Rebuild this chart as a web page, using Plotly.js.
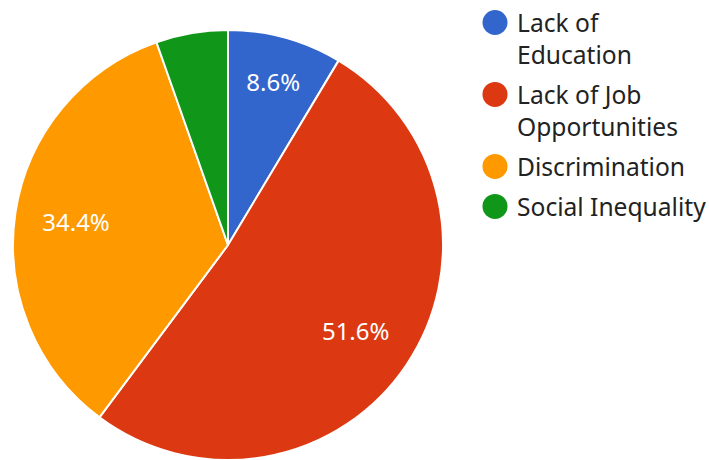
<!DOCTYPE html>
<html>
<head>
<meta charset="utf-8">
<script src="https://cdn.plot.ly/plotly-3.0.1.min.js"></script>
<style>html,body{margin:0;padding:0;background:#fff;}#chart{width:709px;height:460px;}</style>
</head>
<body>
<div id="chart"></div>
<script>
var categories = ["Lack of<br>Education", "Lack of Job<br>Opportunities", "Discrimination", "Social Inequality"];
var values = [8.6, 51.6, 34.4, 5.4];
var colors = ["#3366cc", "#dc3912", "#ff9900", "#109618"];
var innerLabels = ["%{percent:.1%}", "", "", ""];
var ringLabels = ["", "%{percent:.1%}", "%{percent:.1%}", ""];

var dom = {x: [13/709, 443/709], y: [0, 430/460]};

var pieTrace = {
  type: "pie",
  labels: categories,
  values: values,
  sort: false,
  direction: "clockwise",
  rotation: 0,
  marker: {colors: colors, line: {color: "#ffffff", width: 2}},
  texttemplate: innerLabels,
  textposition: "inside",
  insidetextorientation: "horizontal",
  textfont: {family: "Noto Sans", size: 24, color: "#ffffff"},
  domain: dom,
  hoverinfo: "label+percent"
};

var labelTrace = {
  type: "pie",
  labels: categories,
  values: values,
  sort: false,
  direction: "clockwise",
  rotation: 0,
  hole: 0.43,
  showlegend: false,
  marker: {colors: ["rgba(0,0,0,0)", "rgba(0,0,0,0)", "rgba(0,0,0,0)", "rgba(0,0,0,0)"], line: {width: 0}},
  texttemplate: ringLabels,
  textposition: "inside",
  insidetextorientation: "horizontal",
  textfont: {family: "Noto Sans", size: 24, color: "#ffffff"},
  domain: dom,
  hoverinfo: "skip"
};

var layout = {
  width: 709, height: 460,
  margin: {l: 0, r: 0, t: 0, b: 0},
  paper_bgcolor: "#ffffff",
  font: {family: "Noto Sans", color: "#222222"},
  showlegend: true,
  legend: {x: 450/709, y: 1, xanchor: "left", yanchor: "top", valign: "top",
           font: {family: "Noto Sans", size: 24.6, color: "#222222"}, bgcolor: "rgba(0,0,0,0)"}
};

Plotly.newPlot("chart", [pieTrace, labelTrace], layout, {displayModeBar: false, staticPlot: true}).then(function(gd){
  var r = 12.5, cx = -2;
  var d = "M" + (cx + r) + ",0A" + r + "," + r + " 0 1,1 " + cx + ",-" + r + "A" + r + "," + r + " 0 0,1 " + (cx + r) + ",0Z";
  gd.querySelectorAll(".legend .legendpoints path").forEach(function(p){ p.setAttribute("d", d); p.style.strokeWidth = "0px"; });
  var sb = gd.querySelector(".legend .scrollbox");
  if (sb) sb.removeAttribute("clip-path");
  function shift(el, dx, dy) {
    var t = el.getAttribute("transform") || "";
    var m = /translate\(\s*([-\d.]+)[ ,]+([-\d.]+)\s*\)/.exec(t);
    var x = m ? parseFloat(m[1]) : 0, y = m ? parseFloat(m[2]) : 0;
    el.setAttribute("transform", "translate(" + (x + dx) + "," + (y + dy) + ")");
  }
  var leg = gd.querySelector("g.legend");
  if (leg) shift(leg, 27, 0);
  var offsets = [0, 5, 10, 15];
  gd.querySelectorAll(".legend .traces").forEach(function(g, i){ shift(g, 0, offsets[i] || 0); });
});
</script>
</body>
</html>
